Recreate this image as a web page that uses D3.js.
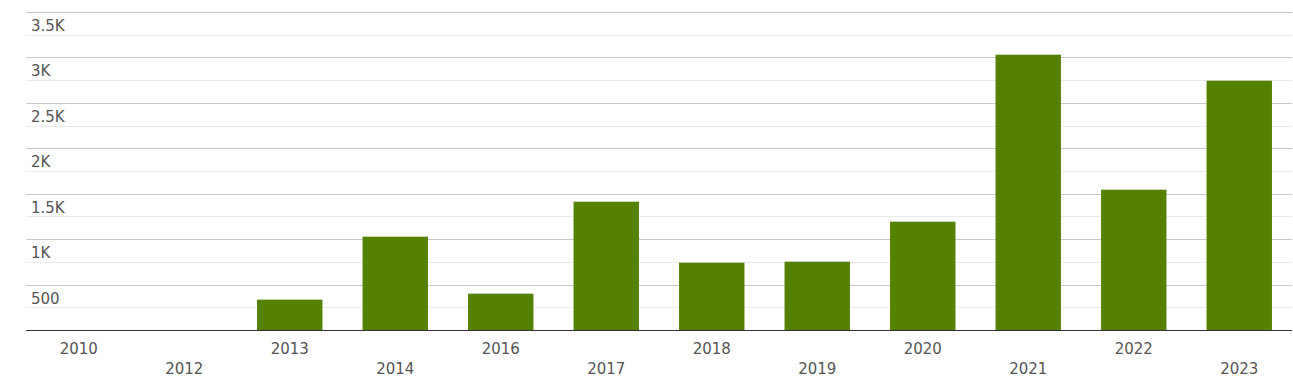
<!DOCTYPE html>
<html>
<head>
<meta charset="utf-8">
<script src="https://cdn.jsdelivr.net/npm/d3@7"></script>
<style>
  body { margin: 0; background: #fff; }
  text { font-family: "DejaVu Sans", sans-serif; font-size: 15px; fill: #555; }
</style>
</head>
<body>
<div id="chart-area"></div>
<script>
var years = ["2010", "2012", "2013", "2014", "2016", "2017", "2018", "2019", "2020", "2021", "2022", "2023"];
var values = [0, 0, 334, 1027, 400, 1412, 741, 752, 1192, 3030, 1544, 2744];
var majorTicks = [500, 1000, 1500, 2000, 2500, 3000, 3500];
var minorTicks = [250, 750, 1250, 1750, 2250, 2750, 3250];

var margin = { left: 26, right: 1, top: 12, bottom: 54 };
var width = 1293 - margin.left - margin.right,
    height = 384 - margin.top - margin.bottom;

var svg = d3.select("#chart-area")
    .append("svg")
        .attr("width", 1293)
        .attr("height", 384);

var g = svg.append("g")
    .attr("transform", "translate(" + margin.left + ", " + margin.top + ")");

var xScale = d3.scaleBand()
    .domain(years)
    .range([0, width])
    .paddingInner(0.38)
    .paddingOuter(0.19);

var yScale = d3.scaleLinear()
    .domain([0, 3500])
    .range([height, 0]);

// minor grid
g.selectAll(".minor")
    .data(minorTicks)
    .enter()
    .append("line")
        .attr("x1", 0)
        .attr("x2", width)
        .attr("y1", function(d) { return Math.round(yScale(d)) + 0.5; })
        .attr("y2", function(d) { return Math.round(yScale(d)) + 0.5; })
        .attr("stroke", "#ebebeb");

// major grid
g.selectAll(".major")
    .data(majorTicks)
    .enter()
    .append("line")
        .attr("x1", 0)
        .attr("x2", width)
        .attr("y1", function(d) { return Math.round(yScale(d)) + 0.5; })
        .attr("y2", function(d) { return Math.round(yScale(d)) + 0.5; })
        .attr("stroke", "#c8c8c8");

g.selectAll(".ylabel")
    .data(majorTicks)
    .enter()
    .append("text")
        .attr("x", 5)
        .attr("y", function(d) { return yScale(d) + 19; })
        .text(function(d) { return d3.format("~s")(d).replace("k", "K"); });

g.selectAll("rect")
    .data(values)
    .enter()
    .append("rect")
        .attr("fill", "#548200")
        .attr("x", function(d, i) { return xScale(years[i]); })
        .attr("width", xScale.bandwidth())
        .attr("y", function(d) { return yScale(d); })
        .attr("height", function(d) { return height - yScale(d); });

g.append("line")
    .attr("x1", 0)
    .attr("x2", width)
    .attr("y1", height + 0.5)
    .attr("y2", height + 0.5)
    .attr("stroke", "#333")
    .attr("stroke-width", 1);

g.selectAll(".xlabel")
    .data(years)
    .enter()
    .append("text")
        .attr("text-anchor", "middle")
        .attr("x", function(d) { return xScale(d) + xScale.bandwidth() / 2; })
        .attr("y", function(d, i) { return height + (i % 2 === 0 ? 24 : 44); })
        .text(function(d) { return d; });
</script>
</body>
</html>
